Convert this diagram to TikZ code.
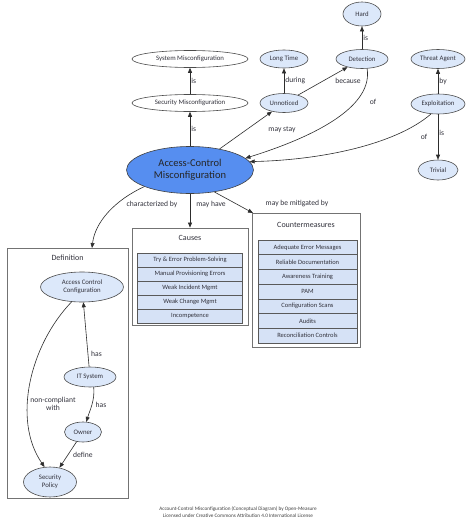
\documentclass[tikz,border=0pt]{standalone}
\usepackage{fontspec}
\setmainfont{Carlito}
\usetikzlibrary{arrows.meta,shapes.geometric}
\definecolor{lb}{RGB}{220,232,250}
\definecolor{acmblue}{RGB}{86,142,240}
\definecolor{itemfill}{RGB}{214,226,246}
\definecolor{edgec}{RGB}{45,45,45}
\definecolor{txt}{RGB}{50,50,60}
\begin{document}
\begin{tikzpicture}[x=1pt,y=-1pt,
 concept/.style={ellipse, draw=black!70, fill=lb, line width=0.6pt, inner sep=0pt,
   font=\fontsize{6.8}{7.8}\selectfont, text=txt, align=center},
 plainc/.style={concept, fill=white},
 conn/.style={draw=edgec, line width=0.6pt, -{Triangle[length=5pt,width=4pt]}},
 lbl/.style={font=\fontsize{7.6}{8.6}\selectfont, text=txt, inner sep=1pt},
 container/.style={draw=black!55, line width=0.8pt, fill=white, inner sep=0pt},
 boxtitle/.style={font=\fontsize{8}{9}\selectfont, text=txt, inner sep=0pt},
 item/.style={draw=black!65, fill=itemfill, line width=0.5pt, inner sep=0pt,
   font=\fontsize{6.5}{7.5}\selectfont, text=txt}
]
\useasboundingbox (0,0) rectangle (474,530);
\fill[white] (0,0) rectangle (474,530);

% ---------- concept nodes ----------
\node[concept, minimum width=38, minimum height=24] (hard) at (362,14) {Hard};
\node[concept, minimum width=52, minimum height=19] (det) at (362,59) {Detection};
\node[concept, minimum width=54, minimum height=19] (ta) at (438,59) {Threat Agent};
\node[concept, minimum width=54, minimum height=20] (expl) at (438,104) {Exploitation};
\node[concept, minimum width=40, minimum height=20] (triv) at (438,170) {Trivial};
\node[concept, minimum width=48, minimum height=18] (lt) at (284,59) {Long Time};
\node[concept, minimum width=48, minimum height=19] (unn) at (284,103) {Unnoticed};
\node[plainc, minimum width=116, minimum height=17] (sysm) at (190,59) {System Misconfiguration};
\node[plainc, minimum width=116, minimum height=17] (secm) at (190,103) {Security Misconfiguration};
\node[concept, fill=acmblue, draw=black!75, minimum width=127, minimum height=47,
  font=\fontsize{10.5}{12.5}\selectfont, text=black!85] (acm) at (190,170) {Access-Control\\Misconfiguration};

% ---------- Causes ----------
\node[container, minimum width=116, minimum height=97] (causes) at (190,276.5) {};
\node[boxtitle] (causest) at (190,238) {Causes};
\foreach \t [count=\i] in {Try \& Error Problem-Solving, Manual Provisioning Errors, Weak Incident Mgmt, Weak Change Mgmt, Incompetence}
  \node[item, minimum width=105, minimum height=14] (c\i) at (190,246+14*\i) {\t};

% ---------- Countermeasures ----------
\node[container, minimum width=108, minimum height=134] (cm) at (306,280) {};
\node[boxtitle] (cmt) at (306,225) {Countermeasures};
\foreach \t [count=\i] in {Adequate Error Messages, Reliable Documentation, Awareness Training, PAM, Configuration Scans, Audits, Reconciliation Controls}
  \node[item, minimum width=99, minimum height=14.7] (m\i) at (307.5,232.65+14.7*\i) {\t};

% ---------- Definition ----------
\node[container, minimum width=121, minimum height=250] (def) at (67.5,373) {};
\node[boxtitle] (deft) at (67.5,258) {Definition};
\node[concept, minimum width=83, minimum height=30] (acc) at (82,287) {Access Control\\Configuration};
\node[concept, minimum width=52, minimum height=20] (its) at (90,377) {IT System};
\node[concept, minimum width=37, minimum height=20] (own) at (83,432) {Owner};
\node[concept, minimum width=53, minimum height=30] (sp) at (50,482) {Security\\Policy};
\coordinate (defin) at (92,248);
\coordinate (cmin) at (253,213);

% ---------- edges ----------
\draw[conn] (secm) -- (sysm) node[lbl, midway, right] {is};
\draw[conn] (acm) -- (secm) node[lbl, midway, right] {is};
\draw[conn] (unn) -- (lt) node[lbl, midway, right] {during};
\draw[conn] (acm) -- (unn);
\node[lbl] (lms) at (282,130) {may stay};
\draw[conn] (unn) -- (det);
\node[lbl] (lbc) at (348,81) {because};
\draw[conn] (det) -- (hard) node[lbl, midway, right] {is};
\draw[conn] (det.-62) .. controls (373,105) and (320,135) .. (acm.12);
\node[lbl] (lof1) at (373,102) {of};
\draw[conn] (expl.235) .. controls (395,145) and (320,160) .. (acm.8);
\node[lbl] (lof2) at (424,137) {of};
\draw[conn] (expl) -- (ta) node[lbl, midway, right] {by};
\draw[conn] (expl) -- (triv) node[lbl, pos=0.4, right] {is};

\draw[conn] (acm.200) .. controls (115,200) and (95,222) .. (defin);
\node[lbl] (lch) at (152,204) {characterized by};
\draw[conn] (acm) -- (causes.north);
\node[lbl] (lmh) at (211,204) {may have};
\draw[conn] (acm.-42) -- (cmin);
\node[lbl] (lmm) at (297,204) {may be mitigated by};

\draw[conn] (its) -- (acc) node[lbl, pos=0.2, right, xshift=2pt] {has};
\draw[conn] (its.-70) .. controls (95,400) and (90,410) .. (own);
\node[lbl] (lhas2) at (101,405) {has};
\draw[conn] (own) -- (sp);
\node[lbl] (ldef) at (83,455) {define};
\draw[conn] (acc.235) .. controls (30,345) and (12,420) .. (sp.110);
\node[lbl, align=center] (lnc) at (53,404) {non-compliant\\with};

% ---------- footer ----------
\node[font=\fontsize{5.2}{6.5}\selectfont, text=black!75, align=center] (foot) at (238,512)
  {Account-Control Misconfiguration (Conceptual Diagram) by Open-Measure\\Licensed under Creative Commons Attribution 4.0 International License};
\end{tikzpicture}
\end{document}
